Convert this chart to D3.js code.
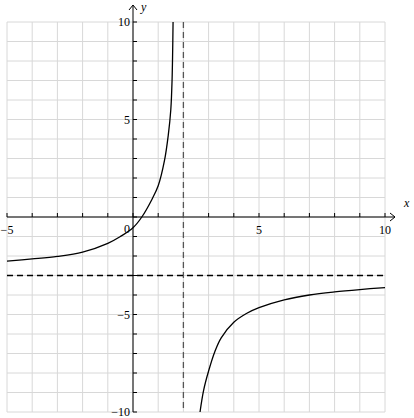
<!DOCTYPE html><html><head><script src="https://cdn.jsdelivr.net/npm/d3@7"></script>
<style>body{margin:0;background:#fff}text{font-family:"Liberation Serif",serif;font-size:12px}</style></head><body>
<svg id="c" width="414" height="418"></svg>
<script>
const leftX=[-5,-4,-3,-2,-1,-0.5,0,0.35,0.75,1,1.25,1.4,1.5,1.55,1.59];
const leftY=[-2.26,-2.15,-2.02,-1.8,-1.35,-1.0,-0.55,0,0.9,1.6,2.9,4.2,5.5,7.0,10];
const rightX=[2.66,2.8,3,3.25,3.5,4,4.5,5,6,7,8,9,10];
const rightY=[-10,-8.9,-7.9,-6.9,-6.2,-5.4,-4.95,-4.65,-4.25,-4.0,-3.84,-3.72,-3.62];
const xTicks=[-5,5,10], yTicks=[10,5,-5,-10];
const vAsym=2, hAsym=-3;
const svg=d3.select("#c");
const x=d3.scaleLinear().domain([-5,10]).range([7,385]);
const y=d3.scaleLinear().domain([-10,10]).range([412,22]);
const g=svg.append("g");
d3.range(-5,11).forEach(v=>g.append("line").attr("x1",x(v)).attr("x2",x(v)).attr("y1",y(-10)).attr("y2",y(10)).attr("stroke","#d8d8d8"));
d3.range(-10,11).forEach(v=>g.append("line").attr("y1",y(v)).attr("y2",y(v)).attr("x1",x(-5)).attr("x2",x(10)).attr("stroke","#d8d8d8"));
svg.append("line").attr("x1",x(-5)).attr("x2",395).attr("y1",y(0)).attr("y2",y(0)).attr("stroke","#000");
svg.append("path").attr("d",`M${395-5},${y(0)-4}L395,${y(0)}L${395-5},${y(0)+4}`).attr("fill","none").attr("stroke","#000");
svg.append("line").attr("x1",x(0)).attr("x2",x(0)).attr("y1",y(-10)).attr("y2",5).attr("stroke","#000");
svg.append("path").attr("d",`M${x(0)-4},10L${x(0)},5L${x(0)+4},10`).attr("fill","none").attr("stroke","#000");
d3.range(-5,11).forEach(v=>svg.append("line").attr("x1",x(v)).attr("x2",x(v)).attr("y1",y(0)).attr("y2",y(0)-4).attr("stroke","#000"));
d3.range(-10,11).forEach(v=>svg.append("line").attr("y1",y(v)).attr("y2",y(v)).attr("x1",x(0)).attr("x2",x(0)+4).attr("stroke","#000"));
xTicks.forEach(v=>svg.append("text").attr("x",x(v)).attr("y",y(0)+17).attr("text-anchor","middle").text(v<0?"\u2212"+(-v):v));
yTicks.forEach(v=>svg.append("text").attr("x",x(0)-3).attr("y",y(v)+4).attr("text-anchor","end").text(v<0?"\u2212"+(-v):v));
svg.append("text").attr("x",x(0)-3).attr("y",y(0)+16).attr("text-anchor","end").text("0");
svg.append("text").attr("x",404).attr("y",207).attr("font-style","italic").text("x");
svg.append("text").attr("x",x(0)+8).attr("y",11).attr("font-style","italic").text("y");
svg.append("line").attr("x1",x(vAsym)).attr("x2",x(vAsym)).attr("y1",y(10)).attr("y2",y(-10)).attr("stroke","#555").attr("stroke-dasharray","6,4").attr("stroke-width",1.3);
svg.append("line").attr("x1",x(-5)).attr("x2",x(10)).attr("y1",y(hAsym)).attr("y2",y(hAsym)).attr("stroke","#000").attr("stroke-dasharray","6,4").attr("stroke-width",1.3);
const line=d3.line().x(d=>x(d[0])).y(d=>y(d[1])).curve(d3.curveCatmullRom.alpha(0.5));
svg.append("path").attr("d",line(leftX.map((v,i)=>[v,leftY[i]]))).attr("fill","none").attr("stroke","#000").attr("stroke-width",1.3);
svg.append("path").attr("d",line(rightX.map((v,i)=>[v,rightY[i]]))).attr("fill","none").attr("stroke","#000").attr("stroke-width",1.3);
</script></body></html>
